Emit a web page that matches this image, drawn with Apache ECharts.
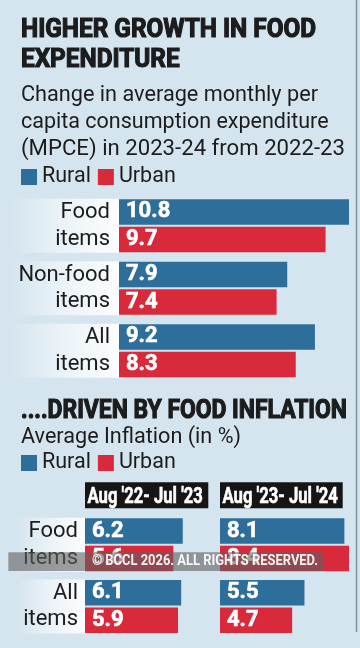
<!DOCTYPE html>
<html><head><meta charset="utf-8">
<script src="https://cdn.jsdelivr.net/npm/echarts/dist/echarts.min.js"></script>
<style>html,body{margin:0;padding:0;background:#d5e5ef}#c{width:360px;height:648px}</style>
</head><body><div id="c"></div>
<script>
// ---- data ----
const mpceCategories = ['Food\nitems', 'Non-food\nitems', 'All\nitems'];
const mpceRural = [10.8, 7.9, 9.2];
const mpceUrban = [9.7, 7.4, 8.3];
const inflCategories = ['Food\nitems', 'All\nitems'];
const periods = ["Aug '22- Jul '23", "Aug '23- Jul '24"];
const inflRuralP1 = [6.2, 6.1];
const inflUrbanP1 = [5.6, 5.9];
const inflRuralP2 = [8.1, 5.5];
const inflUrbanP2 = [8.4, 4.7];
const seriesNames = ['Rural', 'Urban'];
const titleLines1 = ['HIGHER GROWTH IN FOOD', 'EXPENDITURE'];
const subtitleLines1 = ['Change in average monthly per', 'capita consumption expenditure', '(MPCE) in 2023-24 from 2022-23'];
const title2 = '....DRIVEN BY FOOD INFLATION';
const subtitle2 = 'Average Inflation (in %)';
const watermark = '\u00A9 BCCL 2026. ALL RIGHTS RESERVED.';

// ---- style ----
const BLUE = '#2d6e9b', RED = '#d92a3b', INK = '#1c1c1c', BG = '#d5e5ef';
const FF = 'Roboto';
const chart = echarts.init(document.getElementById('c'));

const mctx = document.createElement('canvas').getContext('2d');
function textW(text, font) { mctx.font = font; return mctx.measureText(text).width; }
function fitText(text, x, capMid, size, weight, target, color, z, strokeW) {
  const font = weight + ' ' + size + 'px ' + FF;
  const w = textW(text, font);
  const st = { text: text, font: font, fill: color || INK, align: 'left', verticalAlign: 'middle' };
  if (strokeW) { st.stroke = color || INK; st.lineWidth = strokeW; }
  return { type: 'text', x: x, y: capMid + 0.16 * size, scaleX: target / w, z: z || 10, style: st };
}

const catLabel = (margin) => ({ color: INK, fontSize: 22, fontFamily: FF, lineHeight: 26.5, margin: margin, align: 'right' });
const valLabel = { show: true, position: 'insideLeft', distance: 7, color: '#fff', fontSize: 22, fontWeight: 'bold', fontFamily: FF,
  textBorderColor: '#fff', textBorderWidth: 0.6 };
const hiddenCat = { axisLine: { show: false }, axisTick: { show: false } };

function barSeries(name, data, idx, color) {
  return { name: name, type: 'bar', xAxisIndex: idx, yAxisIndex: idx, data: data, barWidth: 25.5, barGap: '8%',
    itemStyle: { color: color }, label: valLabel, silent: true, animation: false };
}

const legendBase = { data: seriesNames, left: 21, itemWidth: 16, itemHeight: 16, itemGap: 7, icon: 'rect', padding: 0,
  selectedMode: false, textStyle: { fontSize: 21.5, color: INK, fontFamily: FF, lineHeight: 20 } };

const option = {
  backgroundColor: BG,
  animation: false,
  color: [BLUE, RED],
  legend: [Object.assign({ top: 166 }, legendBase), Object.assign({ top: 452 }, legendBase)],
  grid: [
    { left: 119, top: 194.5, width: 230, height: 187.5 },
    { left: 85, top: 514, width: 123, height: 123.4 },
    { left: 220, top: 514, width: 129, height: 123.4 }
  ],
  xAxis: [
    { gridIndex: 0, type: 'value', min: 0, max: 10.8, show: false },
    { gridIndex: 1, type: 'value', min: 0, max: 7.8, show: false },
    { gridIndex: 2, type: 'value', min: 0, max: 8.4, show: false }
  ],
  yAxis: [
    Object.assign({ gridIndex: 0, type: 'category', data: mpceCategories, inverse: true, axisLabel: catLabel(9) }, hiddenCat),
    Object.assign({ gridIndex: 1, type: 'category', data: inflCategories, inverse: true, axisLabel: catLabel(7) }, hiddenCat),
    Object.assign({ gridIndex: 2, type: 'category', data: inflCategories, inverse: true, axisLabel: { show: false } }, hiddenCat)
  ],
  series: [
    barSeries(seriesNames[0], mpceRural, 0, BLUE),
    barSeries(seriesNames[1], mpceUrban, 0, RED),
    barSeries(seriesNames[0], inflRuralP1, 1, BLUE),
    barSeries(seriesNames[1], inflUrbanP1, 1, RED),
    barSeries(seriesNames[0], inflRuralP2, 2, BLUE),
    barSeries(seriesNames[1], inflUrbanP2, 2, RED)
  ]
};
chart.setOption(option);

// ---- decorations (text headers, label glows, period boxes, border, watermark) ----
const g = [];
const TW = 'bold';
const titleFont = TW + ' 26px ' + FF;
const t1scale = 295 / textW(titleLines1[0], titleFont);
g.push(fitText(titleLines1[0], 21, 26.7, 26, TW, 295, INK, 10, 1.2));
g.push(fitText(titleLines1[1], 21, 56, 26, TW, textW(titleLines1[1], titleFont) * t1scale, INK, 10, 1.2));
g.push(fitText(subtitleLines1[0], 21, 92.5, 21.5, 'normal', 297));
g.push(fitText(subtitleLines1[1], 21, 119.2, 21.5, 'normal', 307.6));
g.push(fitText(subtitleLines1[2], 21, 145.8, 21.5, 'normal', 324));
g.push(fitText(title2, 21, 407.5, 26, TW, 326, INK, 10, 1.2));
g.push(fitText(subtitle2, 21, 434.4, 21.5, 'normal', 220));

// label glow rects behind category labels
function glow(yAxisIndex, cats, x0, x1) {
  cats.forEach(function (c) {
    const yc = chart.convertToPixel({ yAxisIndex: yAxisIndex }, c);
    g.push({ type: 'rect', z: -1, shape: { x: x0, y: yc - 27, width: x1 - x0, height: 54 },
      style: { fill: new echarts.graphic.LinearGradient(0, 0, 1, 0, [
        { offset: 0, color: 'rgba(255,255,255,0)' }, { offset: 0.45, color: 'rgba(255,255,255,0.5)' }, { offset: 1, color: 'rgba(255,255,255,0.92)' }]) } });
  });
}
glow(0, mpceCategories, 12, 119);
glow(1, inflCategories, 18, 85);

// period header boxes
[[85, 208.3, 1], [220, 342.7, 2]].forEach(function (b, i) {
  const x0 = chart.convertToPixel({ xAxisIndex: b[2] }, 0);
  g.push({ type: 'rect', z: 5, shape: { x: x0, y: 482.3, width: b[1] - b[0], height: 26 }, style: { fill: '#151515' } });
  g.push(fitText(periods[i], x0 + 2.5, 494.2, 22, 'bold', 115.4, '#ffffff', 6, 0.6));
});

// right border
g.push({ type: 'line', z: 5, shape: { x1: 356.5, y1: 0, x2: 356.5, y2: 632 }, style: { stroke: '#8193a0', lineWidth: 1.5 } });

// watermark band
g.push({ type: 'rect', z: 20, shape: { x: 8.3, y: 552.3, width: 315, height: 18.7 }, style: { fill: 'rgba(95,95,95,0.6)' } });
g.push(fitText(watermark, 92, 559.5, 14, 'bold', 226, 'rgba(255,255,255,0.92)', 21));

chart.setOption({ graphic: { elements: g } });
</script>
</body></html>
